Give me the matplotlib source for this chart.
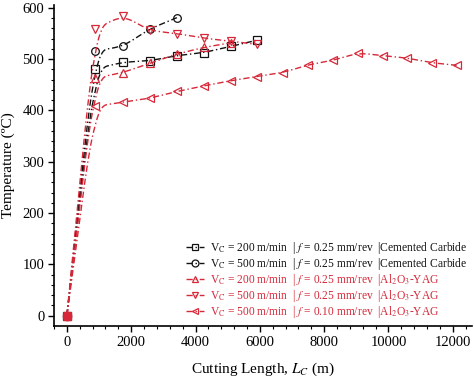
import numpy as np
import matplotlib
matplotlib.use("Agg")
import matplotlib.pyplot as plt

plt.rcParams['font.family'] = ['Liberation Serif', 'DejaVu Serif']
plt.rcParams['mathtext.fontset'] = 'stix'

# valores
x_cc200 = [0, 870, 1740, 2580, 3420, 4260, 5100, 5910]
t_cc200 = [0, 481, 494, 497, 507, 513, 525, 537]
x_cc500 = [0, 870, 1740, 2580, 3420]
t_cc500 = [0, 516, 525, 559, 581]
x_al200 = [0, 870, 1740, 2580, 3420, 4260, 5100]
t_al200 = [0, 463, 474, 492, 510, 523, 532]
x_al500 = [0, 870, 1740, 2580, 3420, 4260, 5100, 5910]
t_al500 = [0, 559, 585, 556, 550, 541, 535, 529]
x_al500b = [0, 870, 1730, 2580, 3420, 4260, 5090, 5900, 6710, 7510, 8280,
            9060, 9840, 10590, 11360, 12120]
t_al500b = [0, 408, 416, 424, 437, 448, 458, 466, 474, 489, 498, 512, 507,
            502, 493, 488]

etiquetas = [
    r"V$_\mathrm{C}$ = 200 m/min  | $f$ = 0.25 mm/rev  |Cemented Carbide",
    r"V$_\mathrm{C}$ = 500 m/min  | $f$ = 0.25 mm/rev  |Cemented Carbide",
    r"V$_\mathrm{C}$ = 200 m/min  | $f$ = 0.25 mm/rev  |Al$_2$O$_3$-YAG",
    r"V$_\mathrm{C}$ = 500 m/min  | $f$ = 0.25 mm/rev  |Al$_2$O$_3$-YAG",
    r"V$_\mathrm{C}$ = 500 m/min  | $f$ = 0.10 mm/rev  |Al$_2$O$_3$-YAG",
]

negro = "#111111"
rojo = "#d62839"


def suavizar(x, y, n=4):
    # Chaikin: curva tipo B-spline como en Origin
    p = np.column_stack([x, y]).astype(float)
    for _ in range(n):
        q = [p[0]]
        for a, b in zip(p[:-1], p[1:]):
            q.append(0.8 * a + 0.2 * b)
            q.append(0.2 * a + 0.8 * b)
        q.append(p[-1])
        p = np.array(q)
    return p[:, 0], p[:, 1]


fig = plt.figure(figsize=(4.74, 3.82), dpi=100)
ax = fig.add_axes([0.114, 0.147, 0.882, 0.839])

series = [
    (x_cc200, t_cc200, "s", negro),
    (x_cc500, t_cc500, "o", negro),
    (x_al200, t_al200, "^", rojo),
    (x_al500, t_al500, "v", rojo),
    (x_al500b, t_al500b, "<", rojo),
]
guion = (0, (4.5, 2, 1, 2))
handles = []
for (xs, ys, m, c), lab in zip(series, etiquetas):
    sx, sy = suavizar(xs, ys)
    ax.plot(sx, sy, color=c, lw=1.0, linestyle=guion)
    ax.plot(xs, ys, linestyle="none", marker=m, ms=5.5, mfc="none",
            mec=c, mew=0.9)
    h, = ax.plot([], [], color=c, lw=1.0, linestyle=guion, marker=m,
                 ms=5, mfc="none", mec=c, mew=0.9, label=lab)
    handles.append(h)

# punto inicial comun (se ve relleno en el original)
ax.plot([0], [0], linestyle="none", marker="o", ms=6, color=rojo)

ax.set_xlim(-400, 12600)
ax.set_ylim(-20, 605)
ax.set_xticks(range(0, 12001, 2000))
ax.set_yticks(range(0, 601, 100))
ax.set_xticks(np.arange(-400, 12600, 400), minor=True)
ax.set_yticks(np.arange(0, 601, 20), minor=True)
ax.tick_params(which="major", direction="out", length=4.5, width=1.0,
               labelsize=10.5, pad=2.5)
ax.tick_params(which="minor", direction="out", length=2.5, width=0.8)
for s in ["top", "right"]:
    ax.spines[s].set_visible(False)
for s in ["left", "bottom"]:
    ax.spines[s].set_linewidth(1.2)

ax.set_xlabel(r"Cutting Length, $L_C$ (m)", fontsize=11, labelpad=9)
ax.set_ylabel("Temperature (ºC)", fontsize=11, labelpad=5)

leg = ax.legend(handles=handles, loc="lower right", frameon=False,
                fontsize=8.3, handlelength=1.6, handletextpad=0.5,
                labelspacing=0.0, borderaxespad=0.0,
                bbox_to_anchor=(1.0, 0.005))
for txt, (_, _, _, c) in zip(leg.get_texts(), series):
    txt.set_color(c)

fig.savefig("out.png", dpi=100)
